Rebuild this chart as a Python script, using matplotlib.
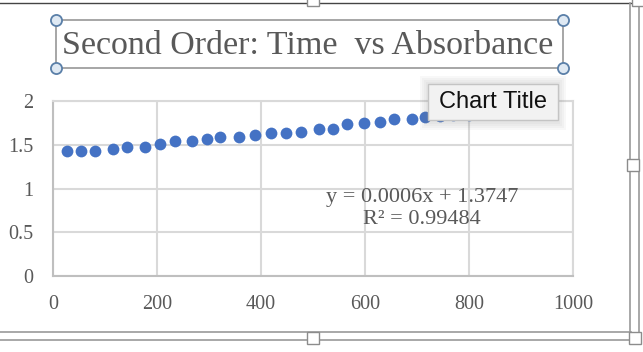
import matplotlib
matplotlib.use('Agg')
import matplotlib.pyplot as plt
from matplotlib.lines import Line2D
from matplotlib.patches import Rectangle

# time (s) vs absorbance
time = [26, 53, 81, 115, 142, 176, 206, 234, 268, 296, 322, 357, 389, 419,
        449, 477, 511, 538, 565, 599, 629, 656, 691, 715, 745, 770, 800, 830]
absorbance = [1.43, 1.43, 1.43, 1.455, 1.48, 1.48, 1.505, 1.545, 1.545, 1.57,
              1.59, 1.59, 1.615, 1.64, 1.64, 1.645, 1.685, 1.685, 1.735, 1.75,
              1.765, 1.80, 1.80, 1.82, 1.83, 1.835, 1.84, 1.85]
xticks = [0, 200, 400, 600, 800, 1000]
yticks = [0, 0.5, 1, 1.5, 2]
yticklabels = ['0', '0.5', '1', '1.5', '2']

W, H = 643, 352
serif = 'Liberation Serif'
grey_txt = '#595959'

def fx(x):
    return x / W

def fy(y):
    return 1 - y / H

fig = plt.figure(figsize=(W / 100, H / 100), dpi=100)
ax = fig.add_axes([fx(53), fy(276), 520 / W, 175 / H])

ax.scatter(time, absorbance, s=72, color='#4472C4', zorder=3, linewidths=0)
ax.set_xlim(0, 1000)
ax.set_ylim(0, 2)
ax.set_xticks(xticks)
ax.set_yticks(yticks)
ax.set_yticklabels(yticklabels)
ax.grid(True, color='#d9d9d9', lw=1.5)
ax.set_axisbelow(True)
for s in ax.spines.values():
    s.set_color('#d9d9d9')
    s.set_linewidth(1.5)
ax.spines['left'].set_color('#bfbfbf')
ax.spines['bottom'].set_color('#bfbfbf')
ax.tick_params(length=0, labelsize=14.5, labelcolor=grey_txt)
ax.tick_params(axis='y', pad=14)
ax.tick_params(axis='x', pad=14)
for lab in ax.get_xticklabels() + ax.get_yticklabels():
    lab.set_family(serif)

ax.text(0.71, 0.45, 'y = 0.0006x + 1.3747', transform=ax.transAxes,
        ha='center', va='center', family=serif, size=16, color=grey_txt)
ax.text(0.71, 0.32, 'R² = 0.99484', transform=ax.transAxes,
        ha='center', va='center', family=serif, size=16, color=grey_txt)

# title and its selection box
fig.text(fx(308), fy(46), 'Second Order: Time  vs Absorbance', ha='center',
         va='center', family=serif, size=24.5, color=grey_txt)
fig.add_artist(Rectangle((fx(56), fy(68)), (563 - 56) / W, 48 / H,
                         transform=fig.transFigure, fill=False,
                         ec='#a6a6a6', lw=1.4))
for cx, cy in [(56, 20), (563, 20), (56, 68), (563, 68)]:
    fig.add_artist(Line2D([fx(cx)], [fy(cy)], transform=fig.transFigure,
                          marker='o', ms=8, mfc='#dfe9f3', mec='#5a7fa8',
                          mew=1.3))

# chart frame
frame = dict(transform=fig.transFigure, color='#9a9a9a', lw=1.2)
fig.add_artist(Line2D([0, 1], [fy(3), fy(3)], color='#444444', lw=1,
                      transform=fig.transFigure))
fig.add_artist(Line2D([0, fx(631)], [fy(332), fy(332)], **frame))
fig.add_artist(Line2D([0, fx(639)], [fy(340), fy(340)], **frame))
fig.add_artist(Line2D([fx(630), fx(630)], [fy(3), fy(332)], **frame))
fig.add_artist(Line2D([fx(639), fx(639)], [fy(3), fy(340)], **frame))
for hx, hy in [(313, 0), (313, 338), (633, 165), (635, 338), (638, 0)]:
    fig.add_artist(Line2D([fx(hx)], [fy(hy)], transform=fig.transFigure,
                          marker='s', ms=9, mfc='white', mec='#8c8c8c',
                          mew=1))

# hover tooltip
for i in range(4):
    d = 2 + 2 * i
    fig.add_artist(Rectangle((fx(428 - d), fy(122 + d)), (130 + 2 * d) / W,
                             (38 + 2 * d) / H, transform=fig.transFigure,
                             fc='#808080', ec='none', alpha=0.05, zorder=5))
fig.add_artist(Rectangle((fx(428), fy(120)), 130 / W, 36 / H,
                         transform=fig.transFigure, fc='#f2f2f2',
                         ec='#c4c4c4', lw=1, zorder=6))
fig.text(fx(493), fy(102), 'Chart Title', ha='center', va='center',
         family='Liberation Sans', size=17, color='#111111', zorder=7)

fig.savefig('out.png', dpi=100)
